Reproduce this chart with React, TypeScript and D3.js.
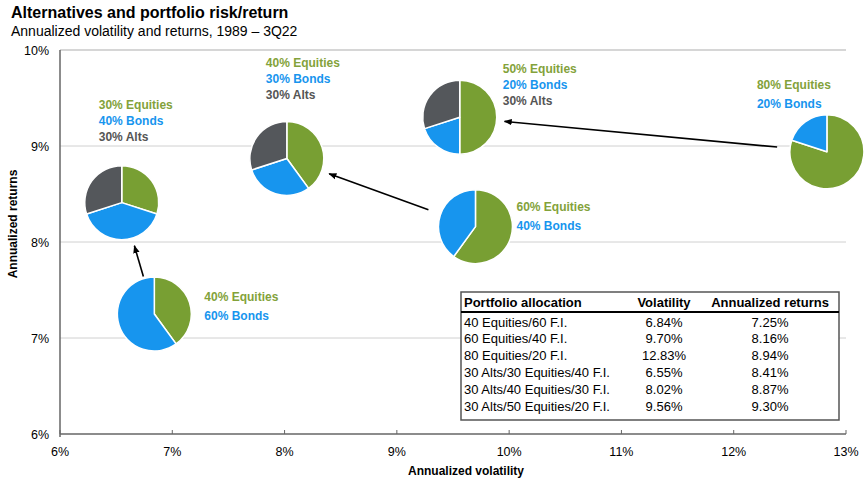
import * as d3 from 'd3'

// Portfolio mixes: volatility vs. return, 1989 – 3Q22
const portfolios = [
  '40 Equities/60 F.I.',
  '60 Equities/40 F.I.',
  '80 Equities/20 F.I.',
  '30 Alts/30 Equities/40 F.I.',
  '30 Alts/40 Equities/30 F.I.',
  '30 Alts/50 Equities/20 F.I.',
]
const volatility = [6.84, 9.7, 12.83, 6.55, 8.02, 9.56]
const returns = [7.25, 8.16, 8.94, 8.41, 8.87, 9.3]
const equities = [40, 60, 80, 30, 40, 50]
const bonds = [60, 40, 20, 40, 30, 20]
const alts = [0, 0, 0, 30, 30, 30]

// adding alts: from -> to
const arrows: [number, number][] = [[0, 3], [1, 4], [2, 5]]

const xTicks = [6, 7, 8, 9, 10, 11, 12, 13]
const yTicks = [6, 7, 8, 9, 10]

// label block offsets from pie centre (layout only)
const labelOffsets: [number, number][] = [
  [50, -17], [41, -20], [-70, -67], [-23, -98], [-21, -95], [43, -48],
]
// gap between arrow tail and source pie centre
const arrowTailGap = [39, 50, 50]

const W = 866
const H = 485
const FONT = '"Liberation Sans", Arial, sans-serif'
const GREEN = '#789f33'
const BLUE = '#1795ee'
const GRAY = '#54575b'
const LABEL_GREEN = '#83a23a'
const LABEL_GRAY = '#555'

export default function App() {
  const x = d3.scaleLinear().domain([6, 13]).range([60, 846])
  const y = d3.scaleLinear().domain([6, 10]).range([434, 50])
  const R = 37

  const pie = d3.pie<number>().sort(null).value((d) => d)
  const arc = d3.arc<d3.PieArcDatum<number>>().innerRadius(0).outerRadius(R)
  const sliceColors = [GREEN, BLUE, GRAY]

  const arrowLines = arrows.map(([a, b], i) => {
    const x0 = x(volatility[a]), y0 = y(returns[a])
    const x1 = x(volatility[b]), y1 = y(returns[b])
    const len = Math.hypot(x1 - x0, y1 - y0)
    const ux = (x1 - x0) / len, uy = (y1 - y0) / len
    const s = arrowTailGap[i], e = R + 8
    return { x1: x0 + ux * s, y1: y0 + uy * s, x2: x1 - ux * e, y2: y1 - uy * e }
  })

  // table geometry
  const tL = 461, tR = 839, tT = 292, tB = 420
  const rowH = 16.9
  const colVol = 664, colRet = 770

  return (
    <div style={{ position: 'absolute', left: 0, top: 0 }}>
      <svg width={W} height={H} style={{ display: 'block', fontFamily: FONT, background: '#fff' }}>
        <defs>
          <marker id="arrow" viewBox="0 0 10 10" refX="9" refY="5" markerWidth="8" markerHeight="8" orient="auto" markerUnits="userSpaceOnUse">
            <path d="M0,1 L10,5 L0,9 Z" fill="#000" />
          </marker>
        </defs>

        <text x={11} y={18} fontSize={16} fontWeight="bold" fill="#000">Alternatives and portfolio risk/return</text>
        <text x={11} y={36} fontSize={14} fill="#000">Annualized volatility and returns, 1989 – 3Q22</text>

        {/* gridlines */}
        {yTicks.filter((t) => t > 6).map((t) => (
          <line key={t} x1={x(6)} x2={x(13)} y1={y(t)} y2={y(t)} stroke={t === 10 ? '#c8c8c8' : '#d0d0d0'} strokeWidth={t === 10 ? 1.5 : 1} />
        ))}

        {/* axes */}
        <line x1={x(6)} x2={x(6)} y1={y(10)} y2={y(6) + 3} stroke="#666" strokeWidth={1.5} />
        <line x1={x(6)} x2={x(13)} y1={y(6)} y2={y(6)} stroke="#666" strokeWidth={1.5} />
        {xTicks.map((t) => (
          <g key={t}>
            <line x1={x(t)} x2={x(t)} y1={y(6)} y2={y(6) - 4} stroke="#666" strokeWidth={1} />
            <text x={x(t)} y={y(6) + 22} fontSize={12.5} textAnchor="middle" fill="#000">{t}%</text>
          </g>
        ))}
        {yTicks.map((t) => (
          <text key={t} x={49} y={y(t) + 4.5} fontSize={12.5} textAnchor="end" fill="#000">{t}%</text>
        ))}
        <text x={466} y={475} fontSize={12} fontWeight="bold" textAnchor="middle" fill="#000">Annualized volatility</text>
        <text transform="translate(17,224) rotate(-90)" fontSize={12} fontWeight="bold" textAnchor="middle" fill="#000">Annualized returns</text>

        {/* arrows */}
        {arrowLines.map((l, i) => (
          <line key={i} {...l} stroke="#000" strokeWidth={1.6} markerEnd="url(#arrow)" />
        ))}

        {/* pies */}
        {portfolios.map((p, i) => {
          const cx = x(volatility[i]), cy = y(returns[i])
          const slices = pie([equities[i], bonds[i], alts[i]])
          const [ox, oy] = labelOffsets[i]
          const three = alts[i] > 0
          const step = three ? 16 : 19
          const lines = [
            { t: `${equities[i]}% Equities`, c: LABEL_GREEN },
            { t: `${bonds[i]}% Bonds`, c: BLUE },
            ...(three ? [{ t: `${alts[i]}% Alts`, c: LABEL_GRAY }] : []),
          ]
          return (
            <g key={p}>
              <g transform={`translate(${cx},${cy})`}>
                {slices.filter((s) => s.value > 0).map((s, j) => (
                  <path key={j} d={arc(s) || ''} fill={sliceColors[s.index]} stroke="#fff" strokeWidth={1.5} strokeLinejoin="round" />
                ))}
              </g>
              {lines.map((l, j) => (
                <text key={j} x={cx + ox} y={cy + oy + j * step + 4} fontSize={12} fontWeight="bold" fill={l.c}>{l.t}</text>
              ))}
            </g>
          )
        })}

        {/* summary table */}
        <rect x={tL} y={tT} width={tR - tL} height={tB - tT} fill="#fff" stroke="#555" strokeWidth={1.5} />
        <text x={464} y={307} fontSize={13} fontWeight="bold">Portfolio allocation</text>
        <text x={colVol} y={307} fontSize={13} fontWeight="bold" textAnchor="middle">Volatility</text>
        <text x={colRet} y={307} fontSize={13} fontWeight="bold" textAnchor="middle">Annualized returns</text>
        <line x1={tL} x2={tR} y1={312} y2={312} stroke="#000" strokeWidth={2} />
        {portfolios.map((p, i) => {
          const ty = 326.5 + i * rowH
          return (
            <g key={p} fontSize={13}>
              <text x={464} y={ty}>{p}</text>
              <text x={colVol} y={ty} textAnchor="middle">{volatility[i].toFixed(2)}%</text>
              <text x={colRet} y={ty} textAnchor="middle">{returns[i].toFixed(2)}%</text>
            </g>
          )
        })}
      </svg>
    </div>
  )
}
